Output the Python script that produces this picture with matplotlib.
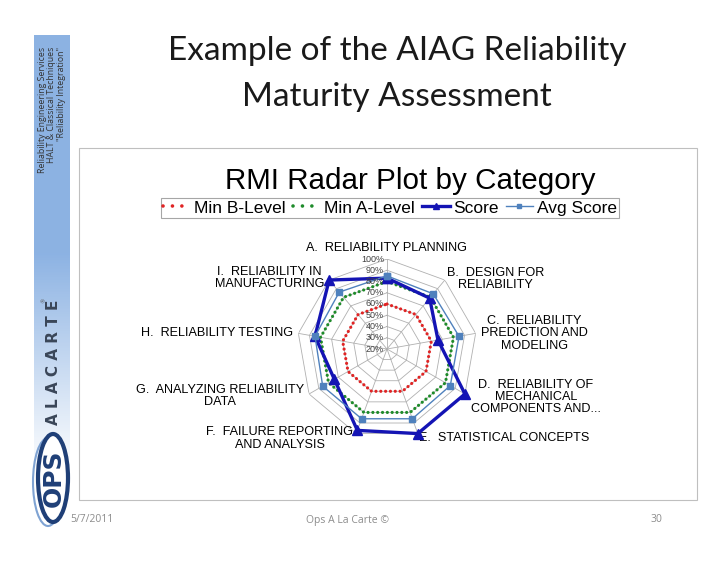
import numpy as np
import matplotlib
matplotlib.use('Agg')
import matplotlib.pyplot as plt
from matplotlib.patches import Rectangle, Ellipse
from matplotlib.lines import Line2D
from matplotlib.transforms import offset_copy

# ---- data ----
categories = [
    "A.  RELIABILITY PLANNING",
    "B.  DESIGN FOR\nRELIABILITY",
    "C.  RELIABILITY\nPREDICTION AND\nMODELING",
    "D.  RELIABILITY OF\nMECHANICAL\nCOMPONENTS AND...",
    "E.  STATISTICAL CONCEPTS",
    "F.  FAILURE REPORTING\nAND ANALYSIS",
    "G.  ANALYZING RELIABILITY\nDATA",
    "H.  RELIABILITY TESTING",
    "I.  RELIABILITY IN\nMANUFACTURING",
]
min_b_level = [0.60, 0.60, 0.60, 0.60, 0.60, 0.60, 0.60, 0.60, 0.60]
min_a_level = [0.80, 0.80, 0.80, 0.80, 0.80, 0.80, 0.80, 0.80, 0.80]
score = [0.83, 0.79, 0.66, 1.00, 1.00, 0.97, 0.74, 0.85, 1.00]
avg_score = [0.85, 0.84, 0.85, 0.85, 0.86, 0.86, 0.86, 0.85, 0.86]
ring_levels = [0.2, 0.3, 0.4, 0.5, 0.6, 0.7, 0.8, 0.9, 1.0]
ring_labels = ["20%", "30%", "40%", "50%", "60%", "70%", "80%", "90%", "100%"]

W, H = 728, 563
fig = plt.figure(figsize=(W / 100, H / 100), dpi=100)
fig.patch.set_facecolor('white')

# ---- slide decoration (pixel coords) ----
bg = fig.add_axes([0, 0, 1, 1])
bg.set_xlim(0, W)
bg.set_ylim(H, 0)
bg.axis('off')

top_col = np.array([0.55, 0.70, 0.89])
ys = np.linspace(0, 1, 200)
fade = np.clip((ys - 0.45) / 0.45, 0, 1)[:, None]
grad = top_col * (1 - fade) + np.array([1.0, 1.0, 1.0]) * fade
bg.imshow(grad[:, None, :], extent=(34, 70, 520, 35), aspect='auto', zorder=0)

bg.text(52, 110, "Reliability Engineering Services\nHALT & Classical Techniques\n\"Reliability Integration\"",
        rotation=90, ha='center', va='center', multialignment='right',
        fontsize=6.3, color='#333333', family='Open Sans', linespacing=1.1)
bg.text(53, 362, "A L A C A R T E", rotation=90, ha='center', va='center',
        fontsize=11, fontweight='bold', color='#3A4658', family='DejaVu Sans')
bg.text(44, 300, "®", rotation=90, ha='center', va='center', fontsize=4, color='#555555')
bg.add_patch(Ellipse((53, 478), 30, 88, facecolor='white', edgecolor='#1F3F77', lw=3, zorder=2))
bg.add_patch(Ellipse((48, 482), 30, 88, facecolor='none', edgecolor='#7FA3D3', lw=1.5, zorder=1))
bg.text(54, 478, "OPS", rotation=90, ha='center', va='center', fontsize=18,
        fontweight='bold', color='#1F3F77', family='DejaVu Sans', zorder=3)

fig.text(397 / W, 1 - 51 / H, "Example of the AIAG Reliability", ha='center', va='center',
         fontsize=24, family='Lato', color='#1A1A1A')
fig.text(397 / W, 1 - 97 / H, "Maturity Assessment", ha='center', va='center',
         fontsize=24, family='Lato', color='#1A1A1A')

bg.add_patch(Rectangle((79, 148), 618, 352, facecolor='none', edgecolor='#BFBFBF', lw=0.8))

fig.text(410 / W, 1 - 181 / H, "RMI Radar Plot by Category", ha='center', va='center',
         fontsize=21.3, family='Liberation Sans', color='black')

for x, txt, ha in [(70, "5/7/2011", 'left'), (348, "Ops A La Carte ©", 'center'), (662, "30", 'right')]:
    fig.text(x / W, 1 - 520 / H, txt, ha=ha, va='center', fontsize=7.5,
             family='Open Sans', color='#8C8C8C')

# ---- radar ----
cx, cy, R = 387, 349, 90
ax = fig.add_axes([(cx - R) / W, (H - cy - R) / H, 2 * R / W, 2 * R / H], projection='polar')
ax.set_theta_offset(np.pi / 2)
ax.set_theta_direction(-1)
ax.set_ylim(0.2, 1.0)
ax.grid(False)
ax.set_xticks([])
ax.set_yticks([])
ax.spines['polar'].set_visible(False)
ax.patch.set_alpha(0)

n = len(categories)
theta = np.arange(n) * 2 * np.pi / n
tc = np.append(theta, theta[0])

def closed(v):
    return np.append(v, v[0])

grid_col = '#B0B0B0'
for lvl in ring_levels[1:]:
    ax.plot(tc, [lvl] * (n + 1), color=grid_col, lw=0.6, zorder=1)
for t in theta:
    ax.plot([t, t], [0.2, 1.0], color=grid_col, lw=0.6, zorder=1)

dots = (0, (0.01, 1.5))
red, green, navy, steel = '#E02424', '#1E8B2A', '#1414B4', '#4F81BD'
lb, = ax.plot(tc, closed(min_b_level), color=red, lw=2.3, ls=dots,
              dash_capstyle='round', zorder=3)
la, = ax.plot(tc, closed(min_a_level), color=green, lw=2.3, ls=dots,
              dash_capstyle='round', zorder=3)
ls_, = ax.plot(tc, closed(score), color=navy, lw=2.4, marker='^', ms=7, zorder=4)
lv, = ax.plot(tc, closed(avg_score), color=steel, lw=1.0, marker='s', ms=4, zorder=5)
for l in (lb, la, ls_, lv):
    l.set_clip_on(False)

tr = offset_copy(ax.transData, fig=fig, x=-3, y=0, units='dots')
for lvl, lab in zip(ring_levels, ring_labels):
    ax.text(0, lvl, lab, transform=tr, ha='right', va='center', fontsize=6.5,
            color='#404040', family='Liberation Sans', zorder=6)

label_pos = [
    ((0, 5), 'center', 'bottom'),
    ((2, 1), 'left', 'center'),
    ((5, 0), 'left', 'center'),
    ((6, -3), 'left', 'center'),
    ((1, -4), 'left', 'center'),
    ((-3, -5), 'right', 'center'),
    ((-5, -2), 'right', 'center'),
    ((-5, 0), 'right', 'center'),
    ((-5, 2), 'right', 'center'),
]
for t, lab, (off, ha, va) in zip(theta, categories, label_pos):
    ax.annotate(lab, xy=(t, 1.0), xytext=off, textcoords='offset pixels',
                ha=ha, va=va, multialignment='center', fontsize=9.1,
                family='Liberation Sans', color='black', annotation_clip=False,
                linespacing=1.05)

# legend proxies (Excel legend draws fewer, bigger dots)
leg_dots = (0, (0.01, 2.6))
handles = [
    Line2D([], [], color=red, lw=2.6, ls=leg_dots, dash_capstyle='round'),
    Line2D([], [], color=green, lw=2.6, ls=leg_dots, dash_capstyle='round'),
    Line2D([], [], color=navy, lw=2.4, marker='^', ms=5),
    Line2D([], [], color=steel, lw=1.0, marker='s', ms=3),
]
leg = fig.legend(handles, ['Min B-Level', 'Min A-Level', 'Score', 'Avg Score'],
                 loc='center', bbox_to_anchor=(390 / W, 1 - 208 / H),
                 ncol=4, frameon=True, fancybox=False, edgecolor='#A6A6A6', framealpha=1,
                 handlelength=1.6, handletextpad=0.2, columnspacing=0.4, borderpad=0.15,
                 prop={'family': 'Liberation Sans', 'size': 12.5})
leg.get_frame().set_linewidth(0.8)

fig.savefig('out.png', dpi=100)
